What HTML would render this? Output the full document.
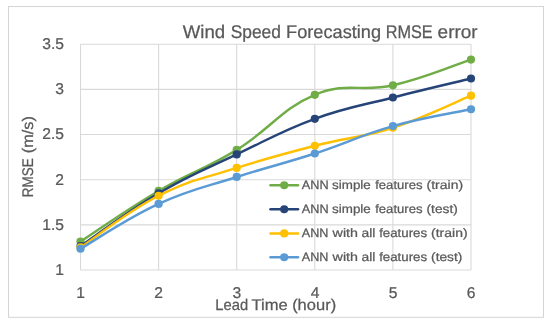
<!DOCTYPE html><html><head><meta charset="utf-8"><title>Wind Speed Forecasting RMSE error</title>
<style>html,body{margin:0;padding:0;background:#fff;}body{width:550px;height:325px;overflow:hidden;}svg{display:block;}text{font-family:"Liberation Sans",sans-serif;fill:#595959;stroke:#595959;stroke-width:0.25px;}</style></head><body>
<svg width="550" height="325" viewBox="0 0 550 325">
<rect x="0" y="0" width="550" height="325" fill="#fff"/>
<rect x="8.5" y="6.5" width="535" height="310.8" fill="#fff" stroke="#d4d4d4" stroke-width="1"/>
<g stroke="#d9d9d9" stroke-width="1.1" fill="none"><line x1="80.50" y1="44.20" x2="80.50" y2="270.00"/><line x1="158.60" y1="44.20" x2="158.60" y2="270.00"/><line x1="236.70" y1="44.20" x2="236.70" y2="270.00"/><line x1="314.80" y1="44.20" x2="314.80" y2="270.00"/><line x1="392.90" y1="44.20" x2="392.90" y2="270.00"/><line x1="471.00" y1="44.20" x2="471.00" y2="270.00"/><line x1="80.50" y1="270.00" x2="471.00" y2="270.00"/><line x1="80.50" y1="224.84" x2="471.00" y2="224.84"/><line x1="80.50" y1="179.68" x2="471.00" y2="179.68"/><line x1="80.50" y1="134.52" x2="471.00" y2="134.52"/><line x1="80.50" y1="89.36" x2="471.00" y2="89.36"/><line x1="80.50" y1="44.20" x2="471.00" y2="44.20"/></g>
<path d="M80.50 241.55 C96.90 230.93 125.80 210.22 158.60 190.97 C191.40 171.72 203.90 170.07 236.70 149.87 C269.50 129.67 282.00 108.34 314.80 94.78 C347.60 81.22 360.10 92.69 392.90 85.30 C425.70 77.90 454.60 64.96 471.00 59.55" fill="none" stroke="#70AD47" stroke-width="2.45" stroke-linecap="round" stroke-linejoin="round"/>
<g fill="#70AD47"><circle cx="80.50" cy="241.55" r="4.10"/><circle cx="158.60" cy="190.97" r="4.10"/><circle cx="236.70" cy="149.87" r="4.10"/><circle cx="314.80" cy="94.78" r="4.10"/><circle cx="392.90" cy="85.30" r="4.10"/><circle cx="471.00" cy="59.55" r="4.10"/></g>
<path d="M80.50 246.07 C96.90 234.97 125.80 212.48 158.60 193.23 C191.40 173.98 203.90 170.02 236.70 154.39 C269.50 138.76 282.00 130.75 314.80 118.80 C347.60 106.85 360.10 105.95 392.90 97.49 C425.70 89.03 454.60 82.50 471.00 78.52" fill="none" stroke="#264478" stroke-width="2.45" stroke-linecap="round" stroke-linejoin="round"/>
<g fill="#264478"><circle cx="80.50" cy="246.07" r="4.10"/><circle cx="158.60" cy="193.23" r="4.10"/><circle cx="236.70" cy="154.39" r="4.10"/><circle cx="314.80" cy="118.80" r="4.10"/><circle cx="392.90" cy="97.49" r="4.10"/><circle cx="471.00" cy="78.52" r="4.10"/></g>
<path d="M80.50 247.42 C96.90 236.57 125.80 212.45 158.60 195.76 C191.40 179.07 203.90 178.43 236.70 167.94 C269.50 157.45 282.00 154.25 314.80 145.81 C347.60 137.37 360.10 138.27 392.90 127.75 C425.70 117.22 454.60 102.42 471.00 95.68" fill="none" stroke="#FFC000" stroke-width="2.45" stroke-linecap="round" stroke-linejoin="round"/>
<g fill="#FFC000"><circle cx="80.50" cy="247.42" r="4.10"/><circle cx="158.60" cy="195.76" r="4.10"/><circle cx="236.70" cy="167.94" r="4.10"/><circle cx="314.80" cy="145.81" r="4.10"/><circle cx="392.90" cy="127.75" r="4.10"/><circle cx="471.00" cy="95.68" r="4.10"/></g>
<path d="M80.50 248.77 C96.90 239.35 125.80 218.96 158.60 203.89 C191.40 188.81 203.90 187.55 236.70 176.97 C269.50 166.39 282.00 164.17 314.80 153.49 C347.60 142.81 360.10 135.41 392.90 126.12 C425.70 116.83 454.60 112.78 471.00 109.23" fill="none" stroke="#5B9BD5" stroke-width="2.45" stroke-linecap="round" stroke-linejoin="round"/>
<g fill="#5B9BD5"><circle cx="80.50" cy="248.77" r="4.10"/><circle cx="158.60" cy="203.89" r="4.10"/><circle cx="236.70" cy="176.97" r="4.10"/><circle cx="314.80" cy="153.49" r="4.10"/><circle cx="392.90" cy="126.12" r="4.10"/><circle cx="471.00" cy="109.23" r="4.10"/></g>
<text transform="translate(182.80 37.50) scale(1.0181 1) skewX(0.08)" font-size="18.3">Wind</text>
<text transform="translate(230.66 37.50) scale(0.9510 1) skewX(0.08)" font-size="18.3">Speed</text>
<text transform="translate(286.08 37.50) scale(0.9941 1) skewX(0.08)" font-size="18.3">Forecasting</text>
<text transform="translate(385.63 37.50) scale(0.8900 1) skewX(0.08)" font-size="18.3">RMSE</text>
<text transform="translate(437.61 37.50) scale(1.0375 1) skewX(0.08)" font-size="18.3">error</text>
<text transform="translate(215.35 310.30) scale(0.9599 1) skewX(0.08)" font-size="15.4">Lead</text>
<text transform="translate(251.54 310.30) scale(1.0767 1) skewX(0.08)" font-size="15.4">Time</text>
<text transform="translate(292.13 310.30) scale(1.0718 1) skewX(0.08)" font-size="15.4">(hour)</text>
<text transform="translate(33.00 197.25) rotate(-90) scale(0.8747 1) skewX(0.08)" font-size="15.4">RMSE</text>
<text transform="translate(33.00 153.27) rotate(-90) scale(1.0613 1) skewX(0.08)" font-size="15.4">(m/s)</text>
<text transform="translate(301.80 189.30) scale(1.0444 1) skewX(0.08)" font-size="12.2">ANN</text>
<text transform="translate(332.07 189.30) scale(1.0982 1) skewX(0.08)" font-size="12.2">simple</text>
<text transform="translate(375.14 189.30) scale(1.0774 1) skewX(0.08)" font-size="12.2">features</text>
<text transform="translate(426.54 189.30) scale(1.1482 1) skewX(0.08)" font-size="12.2">(train)</text>
<text transform="translate(301.80 213.20) scale(1.0444 1) skewX(0.08)" font-size="12.2">ANN</text>
<text transform="translate(332.07 213.20) scale(1.0982 1) skewX(0.08)" font-size="12.2">simple</text>
<text transform="translate(375.14 213.20) scale(1.0774 1) skewX(0.08)" font-size="12.2">features</text>
<text transform="translate(426.56 213.20) scale(1.1243 1) skewX(0.08)" font-size="12.2">(test)</text>
<text transform="translate(301.80 237.40) scale(1.0364 1) skewX(0.08)" font-size="12.2">ANN</text>
<text transform="translate(332.56 237.40) scale(1.1736 1) skewX(0.08)" font-size="12.2">with</text>
<text transform="translate(361.43 237.40) scale(1.1381 1) skewX(0.08)" font-size="12.2">all</text>
<text transform="translate(379.14 237.40) scale(1.0889 1) skewX(0.08)" font-size="12.2">features</text>
<text transform="translate(431.04 237.40) scale(1.1482 1) skewX(0.08)" font-size="12.2">(train)</text>
<text transform="translate(301.80 261.20) scale(1.0364 1) skewX(0.08)" font-size="12.2">ANN</text>
<text transform="translate(332.56 261.20) scale(1.1736 1) skewX(0.08)" font-size="12.2">with</text>
<text transform="translate(361.43 261.20) scale(1.1381 1) skewX(0.08)" font-size="12.2">all</text>
<text transform="translate(379.14 261.20) scale(1.0889 1) skewX(0.08)" font-size="12.2">features</text>
<text transform="translate(431.05 261.20) scale(1.1281 1) skewX(0.08)" font-size="12.2">(test)</text>
<text transform="translate(55.24 274.90) scale(0.9953 1) skewX(0.08)" font-size="15.7">1</text>
<text transform="translate(42.21 229.74) scale(0.9953 1) skewX(0.08)" font-size="15.7">1.5</text>
<text transform="translate(55.24 184.58) scale(0.9953 1) skewX(0.08)" font-size="15.7">2</text>
<text transform="translate(42.21 139.42) scale(0.9953 1) skewX(0.08)" font-size="15.7">2.5</text>
<text transform="translate(55.24 94.26) scale(0.9953 1) skewX(0.08)" font-size="15.7">3</text>
<text transform="translate(42.21 49.10) scale(0.9953 1) skewX(0.08)" font-size="15.7">3.5</text>
<text transform="translate(76.13 297.5) scale(0.9953 1) skewX(0.08)" font-size="15.7">1</text>
<text transform="translate(154.36 297.5) scale(0.9953 1) skewX(0.08)" font-size="15.7">2</text>
<text transform="translate(232.58 297.5) scale(0.9953 1) skewX(0.08)" font-size="15.7">3</text>
<text transform="translate(310.68 297.5) scale(0.9953 1) skewX(0.08)" font-size="15.7">4</text>
<text transform="translate(388.78 297.5) scale(0.9953 1) skewX(0.08)" font-size="15.7">5</text>
<text transform="translate(466.76 297.5) scale(0.9953 1) skewX(0.08)" font-size="15.7">6</text>
<line x1="270.5" y1="185.30" x2="298" y2="185.30" stroke="#70AD47" stroke-width="2.5" stroke-linecap="round"/>
<circle cx="284.2" cy="185.30" r="4.05" fill="#70AD47"/>
<line x1="270.5" y1="209.20" x2="298" y2="209.20" stroke="#264478" stroke-width="2.5" stroke-linecap="round"/>
<circle cx="284.2" cy="209.20" r="4.05" fill="#264478"/>
<line x1="270.5" y1="233.40" x2="298" y2="233.40" stroke="#FFC000" stroke-width="2.5" stroke-linecap="round"/>
<circle cx="284.2" cy="233.40" r="4.05" fill="#FFC000"/>
<line x1="270.5" y1="257.20" x2="298" y2="257.20" stroke="#5B9BD5" stroke-width="2.5" stroke-linecap="round"/>
<circle cx="284.2" cy="257.20" r="4.05" fill="#5B9BD5"/>
</svg></body></html>
